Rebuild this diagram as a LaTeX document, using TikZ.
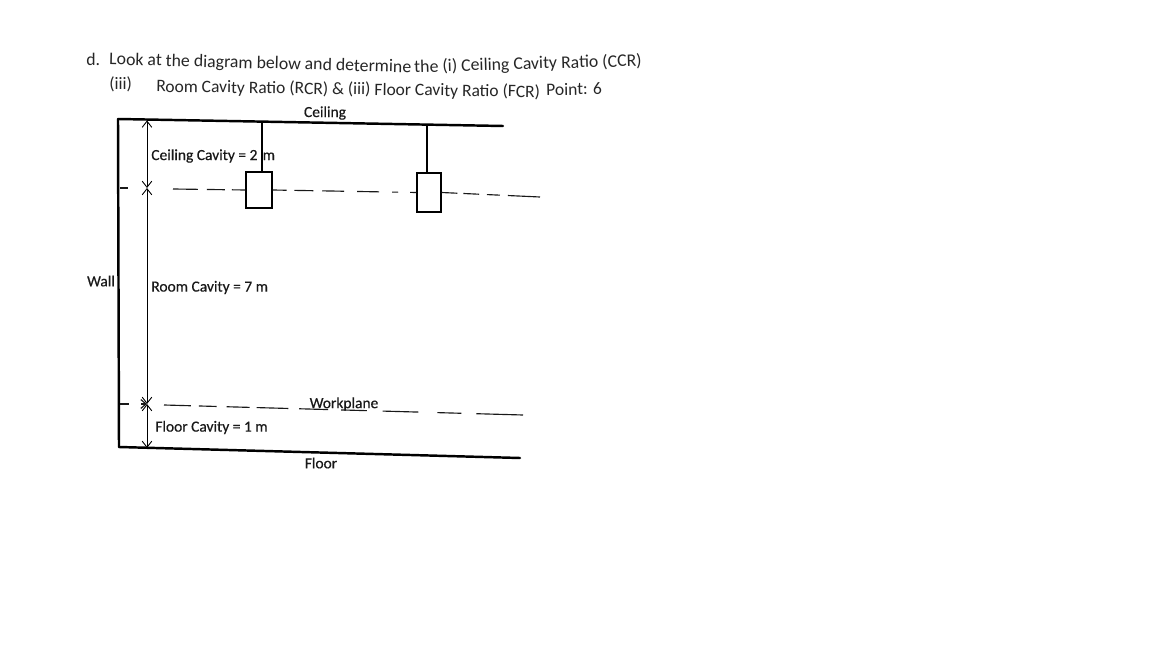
\documentclass[tikz,border=0pt]{standalone}
\usepackage{fontspec}
\setmainfont{Carlito}
\newfontfamily\labelfont[FakeBold=0.5]{Carlito}
\usetikzlibrary{arrows.meta}
\tikzset{
  headtext/.style={inner sep=0pt, text=black!85, font=\fontsize{10.1}{12}\selectfont},
  headtextb/.style={inner sep=0pt, text=black!85, font=\fontsize{9.95}{12}\selectfont},
  labeltext/.style={inner sep=0pt, text=black!90, font=\labelfont\fontsize{8.8}{10}\selectfont},
  surface/.style={line width=1.4pt, line cap=round},
  cavityline/.style={line width=0.65pt, black!90},
  dimline/.style={line width=0.5pt, {Straight Barb[length=3.5pt,width=5.5pt]}-{Straight Barb[length=3.5pt,width=5.5pt]}},
  lamp/.style={draw, line width=0.6pt, fill=white, inner sep=0pt},
  stem/.style={line width=0.6pt}
}
\begin{document}
\begin{tikzpicture}[x=0.02cm, y=-0.02cm]
    \useasboundingbox (0,0) rectangle (1152,648);
    \node [headtext, anchor=west] (d) at (86,59) {d.};
    \node [headtext, anchor=west, rotate=-1.5] (q1a) at (109,60) {Look at the diagram below and determine};
    \node [headtext, anchor=west, rotate=1.6] (q1b) at (414,67.5) {the (i) Ceiling Cavity Ratio (CCR)};
    \node [headtextb, anchor=west] (q2a) at (109,84) {(iii)};
    \node [headtextb, anchor=west, rotate=-0.8] (q2b) at (156,87) {Room Cavity Ratio (RCR) \& (iii) Floor Cavity Ratio (FCR)};
    \node [headtextb, anchor=west, rotate=1] (q2c) at (546,89.5) {Point: 6};

    \coordinate (ceilL) at (118,119);
    \coordinate (ceilR) at (503,126);
    \coordinate (floorL) at (119,447);
    \coordinate (floorR) at (520,458);
    \coordinate (top) at (147,120.5);
    \coordinate (bottom) at (147,448);
    \coordinate (star1) at (147,188);
    \coordinate (star2) at (147,404);
    \coordinate (wall1) at (120,188);
    \coordinate (wall1b) at (128,188);
    \coordinate (wall2) at (120,404);
    \coordinate (dash1) at (173,189);
    \coordinate (dash2) at (164,405);
    \coordinate (end1) at (540,197);
    \coordinate (end2) at (523,415);
    \coordinate (stem1) at (262,123);
    \coordinate (stem2) at (427,126);

    \node [lamp, minimum width=26*0.02cm, minimum height=36*0.02cm] (lamp1) at (259,190) {};
    \node [lamp, minimum width=24*0.02cm, minimum height=39*0.02cm] (lamp2) at (429,192.5) {};

    \draw [surface] (ceilL) -- (ceilR);
    \draw [surface] (ceilL) -- (floorL);
    \draw [surface] (floorL) -- (floorR);
    \draw [stem] (stem1) -- (stem1 |- lamp1.north);
    \draw [stem] (stem2) -- (stem2 |- lamp2.north);

    \draw [dimline] (top) -- (star1);
    \draw [dimline] (star1) -- (star2);
    \draw [dimline] (star2) -- (bottom);

    % dashes
    \draw [cavityline] (wall1) -- (wall1b);
    \draw [cavityline, dash pattern=on 14.2pt off 5.1pt on 10.2pt off 4pt on 8pt off 1pt] (dash1) -- (lamp1.west);
    \draw [cavityline, dash pattern=on 8pt off 4.5pt on 10.8pt off 5pt on 12.5pt off 7.4pt on 12.5pt off 7.4pt on 3.4pt off 6.8pt on 6pt off 1pt] (lamp1.east) -- (lamp2.west);
    \draw [cavityline, dash pattern=on 9pt off 3.4pt on 9pt off 4.5pt on 7.4pt off 4.5pt on 24pt off 1pt] (lamp2.east) -- (end1);
    \draw [cavityline, dash pattern=on 5pt off 7pt on 6pt off 1pt, -{Straight Barb[length=3pt,width=5pt]}] (wall2) -- (star2);
    \draw [cavityline, dash pattern=on 15.3pt off 4.5pt on 10.2pt off 5.7pt on 13pt off 4pt on 18.1pt off 6.2pt on 16.4pt off 7.4pt on 14.7pt off 9pt on 20.4pt off 10.8pt on 13.6pt off 8.5pt on 30pt off 1pt] (dash2) -- (end2);

    \node [labeltext] (ceiling) at (325,113) {Ceiling};
    \node [labeltext, anchor=west] (ccav) at (151,156) {Ceiling Cavity = 2\hskip 3pt m};
    \node [labeltext] (wall) at (101,281) {Wall};
    \node [labeltext, anchor=west] (rcav) at (151,287.5) {Room Cavity = 7 m};
    \node [labeltext] (workplane) at (344,404) {Workplane};
    \node [labeltext, anchor=west] (fcav) at (155,427.5) {Floor Cavity = 1 m};
    \node [labeltext] (floor) at (321,463) {Floor};
  \end{tikzpicture}
\end{document}
